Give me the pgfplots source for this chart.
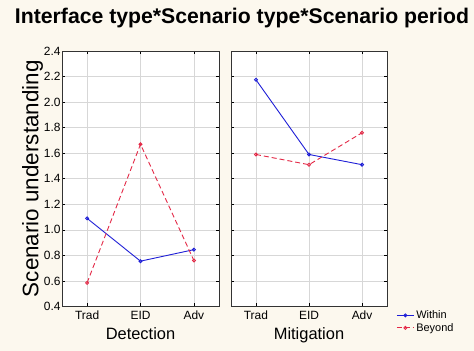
\documentclass[border=0pt]{standalone}
\usepackage{pgfplots}
\pgfplotsset{compat=1.18}
\usepackage{fontspec}
\setmainfont{Liberation Sans}
\definecolor{bg}{RGB}{252,248,238}
\definecolor{wblue}{RGB}{30,30,215}
\definecolor{bred}{RGB}{228,40,70}
\definecolor{gridc}{RGB}{215,215,215}
\begin{document}
\begin{tikzpicture}
\fill[bg] (0bp,0bp) rectangle (474bp,351bp);
\useasboundingbox (0bp,0bp) rectangle (474bp,351bp);
\pgfplotsset{myax/.style={
  scale only axis, width=157bp, height=255.5bp,
  xmin=-0.47, xmax=2.47, ymin=0.4, ymax=2.4,
  ytick={0.4,0.6,0.8,1.0,1.2,1.4,1.6,1.8,2.0,2.2,2.4},
  xtick={0,1,2}, xticklabels={Trad,EID,Adv},
  grid=major, major grid style={gridc, line width=0.5pt},
  tick pos=both, tick align=inside, major tick length=3bp,
  tick style={black, line width=0.5pt},
  axis line style={black!80, line width=0.8pt},
  axis background/.style={fill=white},
  /pgf/number format/assume math mode=true,
  tick label style={font=\fontsize{12}{13}\selectfont},
  yticklabel style={/pgf/number format/fixed, /pgf/number format/fixed zerofill, /pgf/number format/precision=1},
  xlabel style={font=\fontsize{16.5}{18}\selectfont, yshift=-1bp},
  every axis plot/.append style={line width=0.9pt},
}}
\begin{axis}[myax, at={(62bp,300bp)}, anchor=north west,
  xlabel={Detection},
  ylabel={Scenario understanding},
  ylabel style={font=\fontsize{22.5}{24}\selectfont, yshift=-6bp},
  xticklabel style={yshift=-1bp},
  yticklabel style={xshift=2bp}]
\addplot[wblue, mark=o, mark size=1.5pt, mark options={solid}] coordinates {(0,1.09) (1,0.755) (2,0.845)};
\addplot[bred, dash pattern=on 5bp off 3bp, mark=o, mark size=1.5pt, mark options={solid}] coordinates {(0,0.585) (1,1.67) (2,0.76)};
\end{axis}
\begin{axis}[myax, at={(231bp,300bp)}, anchor=north west, width=156bp,
  xlabel={Mitigation}, yticklabels={},
  xticklabel style={yshift=-1bp},
  legend style={at={(1.04,-0.0)}, anchor=north west, draw=none, fill=none,
    font=\fontsize{11}{13}\selectfont, row sep=-1bp},
  legend cell align=left]
\addplot[wblue, mark=o, mark size=1.5pt, mark options={solid}] coordinates {(0,2.175) (1,1.59) (2,1.51)};
\addlegendentry{Within}
\addplot[bred, dash pattern=on 5bp off 3bp, mark=o, mark size=1.5pt, mark options={solid}] coordinates {(0,1.59) (1,1.51) (2,1.76)};
\addlegendentry{Beyond}
\end{axis}
\node[font=\bfseries\fontsize{21.3}{24}\selectfont] at (242bp,333bp) {Interface type*Scenario type*Scenario period};
\end{tikzpicture}
\end{document}
